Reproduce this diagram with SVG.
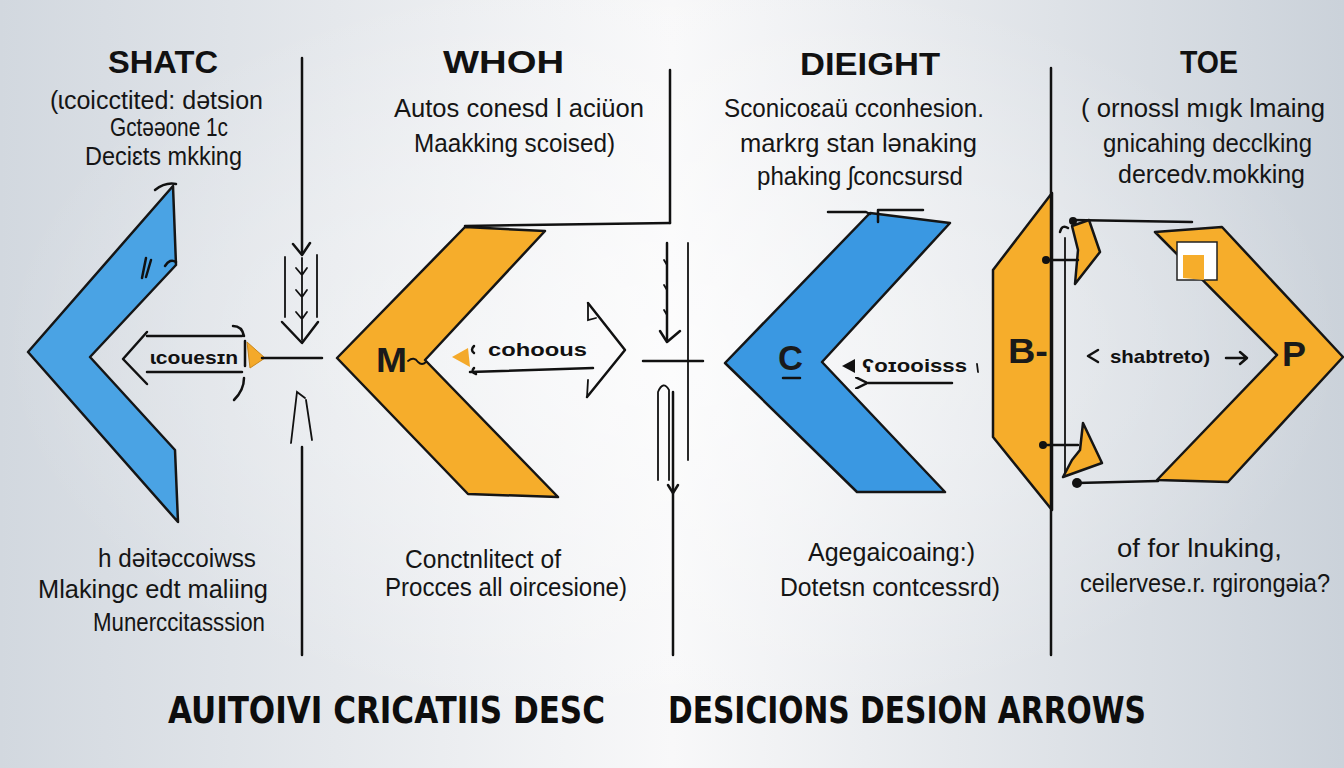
<svg xmlns="http://www.w3.org/2000/svg" width="1344" height="768" viewBox="0 0 1344 768">
<defs>
<linearGradient id="bg" x1="0" y1="0" x2="1" y2="0">
<stop offset="0" stop-color="#d2d8df"/>
<stop offset="0.5" stop-color="#f8f8f9"/>
<stop offset="1" stop-color="#cbd2da"/>
</linearGradient>
<radialGradient id="glow" cx="0.5" cy="0.45" r="0.5">
<stop offset="0" stop-color="#ffffff" stop-opacity="0.6"/>
<stop offset="1" stop-color="#ffffff" stop-opacity="0"/>
</radialGradient>
<marker id="ahL" viewBox="0 0 10 10" refX="1" refY="5" markerWidth="5" markerHeight="5" orient="auto-start-reverse">
<path d="M10,0 L0,5 L10,10" fill="none" stroke="#111" stroke-width="2"/>
</marker>
</defs>
<style>
.ttl{font-family:"Liberation Sans",Arial,sans-serif;font-weight:bold;font-size:32px;fill:#111;text-anchor:start}
.txt{font-family:"Liberation Sans",Arial,sans-serif;font-size:25px;fill:#151515}
.lbl{font-family:"Liberation Sans",Arial,sans-serif;font-weight:bold;font-size:19px;fill:#111}
.big{font-family:"Liberation Sans",Arial,sans-serif;font-weight:bold;font-size:35px;fill:#1a1a1a}
.foot{font-family:"DejaVu Sans Condensed","DejaVu Sans",sans-serif;font-weight:bold;font-size:38px;fill:#0d0d0d}
.ln{fill:none;stroke:#111;stroke-width:2.5;stroke-linecap:round;stroke-linejoin:round}
.thin{fill:none;stroke:#111;stroke-width:1.8;stroke-linecap:round}
.blue{fill:#4aa3e4;stroke:#151515;stroke-width:2.5;stroke-linejoin:round}
.blue2{fill:#3a98e2;stroke:#151515;stroke-width:2.5;stroke-linejoin:round}
.org{fill:#f6ad2b;stroke:#151515;stroke-width:2.5;stroke-linejoin:round}
.dot{fill:#111}
</style>
<rect x="0" y="0" width="1344" height="768" fill="url(#bg)"/>
<rect x="0" y="0" width="1344" height="768" fill="url(#glow)"/>

<g id="col1-header">
<text class="ttl" x="108" y="73" textLength="110" lengthAdjust="spacingAndGlyphs">SHATC</text>
<text class="txt" x="50" y="109" font-size="23" textLength="213" lengthAdjust="spacingAndGlyphs">(ɩcoicctited: dətsion</text>
<text class="txt" x="110" y="136" font-size="16" textLength="118" lengthAdjust="spacingAndGlyphs">Gctəəone 1c</text>
<text class="txt" x="85" y="165" font-size="23" textLength="157" lengthAdjust="spacingAndGlyphs">Deciɛts mkking</text>
</g>
<g id="col2-header">
<text class="ttl" x="443" y="73" textLength="121" lengthAdjust="spacingAndGlyphs">WHOH</text>
<text class="txt" x="394" y="117" textLength="250" lengthAdjust="spacingAndGlyphs">Autos conesd l aciüon</text>
<text class="txt" x="414" y="152" textLength="201" lengthAdjust="spacingAndGlyphs">Maakking scoised)</text>
</g>
<g id="col3-header">
<text class="ttl" x="800" y="75" textLength="140" lengthAdjust="spacingAndGlyphs">DIEIGHT</text>
<text class="txt" x="724" y="117" textLength="260" lengthAdjust="spacingAndGlyphs">Sconicoɛaü cconhesion.</text>
<text class="txt" x="740" y="152" textLength="237" lengthAdjust="spacingAndGlyphs">markrg stan lənaking</text>
<text class="txt" x="757" y="185" textLength="206" lengthAdjust="spacingAndGlyphs">phaking ʃconcsursd</text>
</g>
<g id="col4-header">
<text class="ttl" x="1180" y="73" textLength="58" lengthAdjust="spacingAndGlyphs">TOE</text>
<text class="txt" x="1081" y="117" textLength="244" lengthAdjust="spacingAndGlyphs">( ornossl mıgk lmaing</text>
<text class="txt" x="1103" y="152" textLength="209" lengthAdjust="spacingAndGlyphs">gnicahing decclking</text>
<text class="txt" x="1118" y="183" textLength="187" lengthAdjust="spacingAndGlyphs">dercedv.mokking</text>
</g>

<g id="chevron-blue-left">
<polygon class="blue" points="173,186 176,265 90,357 175,450 178,522 28,352"/>
<path class="ln" d="M155,190 Q165,182 176,184"/>
<path class="ln" d="M142,278 L146,258 M146,277 L151,260"/>
<path class="ln" d="M165,266 Q170,258 176,262"/>
</g>

<g id="chevron-orange-M">
<polygon class="org" points="465,227 545,231 425,360 558,497 468,494 337,358"/>
<text class="big" x="376" y="372" textLength="31" lengthAdjust="spacingAndGlyphs">M</text>
<path class="thin" d="M408,361 Q414,356 418,362 Q422,366 426,362"/>
</g>

<g id="chevron-blue-C">
<polygon class="blue2" points="870,213 950,223 822,362 945,492 857,492 725,363"/>
<text class="big" x="778" y="370" textLength="25" lengthAdjust="spacingAndGlyphs">C</text>
<path class="ln" d="M783,378 L800,378"/>
</g>

<g id="shape-orange-B">
<polygon class="org" points="1052,193 993,270 993,437 1052,510"/>
<text class="big" x="1008" y="363" textLength="40" lengthAdjust="spacingAndGlyphs">B-</text>
</g>

<g id="chevron-orange-P">
<polygon class="org" points="1155,232 1222,227 1343,357 1228,482 1157,480 1277,355"/>
<rect x="1177" y="242" width="40" height="38" fill="#ffffff" stroke="#222" stroke-width="1.5"/>
<path d="M1183,255 L1204,255 L1204,280 L1183,278 Z" fill="#f6ad2b"/>
<text class="big" x="1282" y="366" textLength="24" lengthAdjust="spacingAndGlyphs">P</text>
</g>

<g id="label-couesin">
<path class="ln" d="M147,336 L242,336 M233,326 Q242,326 244,336"/>
<path class="ln" d="M147,372 L242,372 M244,378 Q244,390 234,400"/>
<path class="ln" d="M147,332 L123,359 L147,384"/>
<text class="lbl" x="150" y="364" textLength="88" lengthAdjust="spacingAndGlyphs">ɩcouesɪn</text>
<path class="ln" d="M245,341 L245,366" stroke-width="4"/>
<polygon points="247,342 265,358 250,368" fill="#f4a92a" stroke="#c9861a" stroke-width="1"/>
</g>

<g id="label-cohoous">
<text class="lbl" x="488" y="356" font-size="23" textLength="99" lengthAdjust="spacingAndGlyphs">cohoous</text>
<polygon points="452,357 468,348 470,367" fill="#f4a92a"/>
<path class="ln" d="M474,346 Q470,350 474,353 M474,368 Q470,372 476,374"/>
<path class="ln" d="M470,372 L593,368"/>
<path class="ln" d="M588,303 L625,350 L587,397"/>
<path class="thin" d="M588,303 L588,320 L596,318 M588,380 L587,397"/>
</g>

<g id="label-oiooisss">
<polygon points="842,366 855,359 855,373" fill="#111"/>
<text class="lbl" x="862" y="372" font-size="20" textLength="105" lengthAdjust="spacingAndGlyphs">ʕoɪooisss</text>
<path class="thin" d="M977,364 L978,372"/>
<path class="ln" d="M866,383 L952,383" marker-start="url(#ahL)"/>
</g>

<g id="label-shabtreto">
<path class="ln" d="M1098,350 L1088,356 L1098,362" stroke-width="3.5"/>
<text class="lbl" x="1110" y="363" font-size="17" textLength="100" lengthAdjust="spacingAndGlyphs">shabtreto)</text>
<path class="ln" d="M1226,358 L1246,358 M1240,352 L1247,358 L1240,364"/>
</g>

<g id="connectors">
<path class="ln" d="M302,58 L302,252"/>
<path class="ln" d="M293,244 L302,255 L310,243"/>
<path class="thin" d="M302,258 L302,340 M296,268 L302,275 L307,268 M296,290 L302,297 L307,290 M296,312 L302,319 L307,312"/>
<path class="thin" d="M285,257 L285,317 M317,255 L317,317"/>
<path class="ln" d="M282,322 L302,343 L318,322"/>
<path class="ln" d="M262,358 L322,358"/>
<path class="thin" d="M291,443 L297,392 L305,398 M312,440 L306,400"/>
<path class="ln" d="M302,447 L302,655"/>
<path class="ln" d="M465,226 L670,223"/>
<path class="ln" d="M670,70 L670,223"/>
<path class="ln" d="M667,243 L667,340"/>
<path class="ln" d="M660,331 L667,342 L680,331"/>
<path class="thin" d="M688,243 L688,460"/>
<path class="thin" d="M664,260 L667,265 M664,285 L667,290 M664,310 L667,315"/>
<path class="ln" d="M643,361 L703,361"/>
<path class="thin" d="M658,480 L658,392 Q663,380 669,390 L669,480"/>
<path class="ln" d="M673,392 L673,655"/>
<path class="ln" d="M668,485 L673,493 L678,485"/>
<path class="ln" d="M828,212 L866,212 L870,214"/>
<path class="ln" d="M878,222 L878,210 L923,210"/>
<path class="ln" d="M1051,68 L1051,655"/>
<path class="thin" d="M1065,238 L1065,473"/>
<path class="ln" d="M1072,220 L1192,222"/>
<circle class="dot" cx="1073" cy="221" r="4"/>
<polygon class="org" points="1072,226 1089,220 1100,252 1075,284 1078,250"/>
<path class="ln" d="M1060,232 Q1062,224 1068,228"/>
<path class="ln" d="M1045,260 L1078,260"/>
<circle class="dot" cx="1046" cy="260" r="4"/>
<polygon class="org" points="1083,423 1102,463 1063,477 1072,460 1080,450"/>
<path class="ln" d="M1042,445 L1078,445"/>
<circle class="dot" cx="1043" cy="445" r="4"/>
<path class="ln" d="M1077,483 L1158,481"/>
<circle class="dot" cx="1077" cy="483" r="5"/>
</g>

<g id="col1-footer">
<text class="txt" x="98" y="567" textLength="158" lengthAdjust="spacingAndGlyphs">h dəitəccoiwss</text>
<text class="txt" x="38" y="598" textLength="230" lengthAdjust="spacingAndGlyphs">Mlakingc edt maliing</text>
<text class="txt" x="93" y="631" textLength="172" lengthAdjust="spacingAndGlyphs">Munerccitasssion</text>
</g>
<g id="col2-footer">
<text class="txt" x="405" y="568" textLength="156" lengthAdjust="spacingAndGlyphs">Conctnlitect of</text>
<text class="txt" x="385" y="596" textLength="242" lengthAdjust="spacingAndGlyphs">Procces all oircesione)</text>
</g>
<g id="col3-footer">
<text class="txt" x="808" y="561" textLength="167" lengthAdjust="spacingAndGlyphs">Agegaicoaing:)</text>
<text class="txt" x="780" y="596" textLength="220" lengthAdjust="spacingAndGlyphs">Dotetsn contcessrd)</text>
</g>
<g id="col4-footer">
<text class="txt" x="1117" y="557" textLength="165" lengthAdjust="spacingAndGlyphs">of for lnuking,</text>
<text class="txt" x="1080" y="592" textLength="250" lengthAdjust="spacingAndGlyphs">ceilervese.r. rgirongəia?</text>
</g>

<g id="footer-title">
<text class="foot" x="168" y="723" textLength="437" lengthAdjust="spacingAndGlyphs">AUITOIVI CRICATIIS DESC</text>
<text class="foot" x="668" y="723" textLength="478" lengthAdjust="spacingAndGlyphs">DESICIONS DESION ARROWS</text>
</g>
</svg>
